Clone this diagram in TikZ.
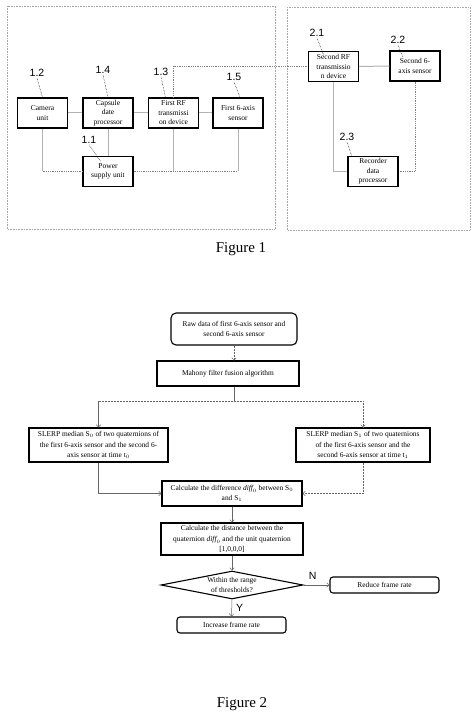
\documentclass[tikz,border=0pt]{standalone}
\usepackage{fontspec}
\setmainfont{Liberation Serif}
\newfontfamily\labelfont{Liberation Sans}
\usepackage{tikz}
\usetikzlibrary{calc}
\usetikzlibrary{arrows.meta}
\usetikzlibrary{shapes.geometric}
\tikzset{
    unit/.style={draw, line width=1.3pt, minimum width=50pt, minimum height=30pt, inner sep=1pt, align=center, font=\fontsize{7.5}{9.5}\selectfont},
    frame/.style={draw=gray!70, densely dotted, line width=0.6pt},
    wire/.style={gray!60, line width=1pt},
    dwire/.style={gray, densely dotted, line width=0.8pt},
    leader/.style={densely dotted, line width=0.5pt},
    num/.style={text=black, font=\labelfont\fontsize{10.5}{12}\selectfont, inner sep=1pt},
    stepbox/.style={draw, line width=1.1pt, inner sep=1pt, align=center, font=\fontsize{7.4}{10.5}\selectfont},
    flow/.style={gray!80!black, line width=0.5pt},
    ->-/.style={flow, -{To[length=3pt,width=5pt]}},
    caption/.style={font=\fontsize{15}{18}\selectfont}
}
\begin{document}
\begin{tikzpicture}[x=1pt,y=-1pt]
\useasboundingbox (0,0) rectangle (474,719);
% Figure 1
\draw[frame] (7,6) rectangle (275,229);
\draw[frame] (287,7) rectangle (470,230);
\foreach \x/\y/\p/\t in {42.5/113/cam/{Camera\\unit}, 108/113/cap/{Capsule\\date\\processor}, 173.5/113/rf1/{First RF\\transmissi\\on device}, 238/113/sa1/{First 6-axis\\sensor}, 108/171.5/pwr/{Power\\supply unit}, 333.5/66.5/rf2/{Second RF\\transmissio\\n device}, 415/66/sa2/{Second 6-\\axis sensor}, 373/171.5/rec/{Recorder\\data\\processor}}{
    \node[unit] (\p) at (\x,\y) {\t};
}
\draw[wire] (cam) -- (cap);
\draw[wire] (cap) -- (rf1);
\draw[wire] (rf1) -- (sa1);
\draw[wire] (cap) -- (pwr);
\draw[wire] (cam.south) -- (cam.south |- pwr.west);
\draw[dwire] (cam.south |- pwr.west) -- (pwr.west);
\draw[dwire] (pwr.east) -- (sa1.south |- pwr.east);
\draw[wire] (sa1.south) -- (sa1.south |- pwr.east);
\draw[wire] (rf1.south) -- (rf1.south |- pwr.east);
\draw[dwire] (rf1.north) |- (rf2.west);
\draw[wire] (rf2) -- (sa2);
\draw[wire] (rf2.south) |- (rec.west);
\draw[dwire] (sa2.south) |- (rec.east);
\foreach \x/\y/\p/\t/\dx/\dy in {37/73/cam/1.2/0/0, 103/70/cap/1.4/0/0, 161/72/rf1/1.3/-8/0, 234/77/sa1/1.5/2/0, 89/140/pwr/1.1/-7/6, 317/33/rf2/2.1/-10/4, 398/40/sa2/2.2/-12/7, 347/137/rec/2.3/-21/1}{
    \node[num] (lab\p) at (\x,\y) {\t};
    \draw[leader] (lab\p.south) -- ([shift={(\dx,\dy)}]\p.north);
}
\node[caption] (fig1) at (241,249) {Figure 1};
% Figure 2
\node[stepbox, rounded corners=5pt, minimum width=126pt, minimum height=32pt] (raw) at (234,329) {Raw data of first 6-axis sensor and\\second 6-axis sensor};
\node[stepbox, minimum width=142pt, minimum height=25pt] (mah) at (228,373.5) {Mahony filter fusion algorithm};
\node[stepbox, minimum width=139pt, minimum height=34pt] (sl0) at (98.5,445) {SLERP median S$_0$ of two quaternions of\\the first 6-axis sensor and the second 6-\\axis sensor at time t$_0$};
\node[stepbox, minimum width=134pt, minimum height=34pt] (sl1) at (363,445) {SLERP median S$_1$ of two quaternions\\of the first 6-axis sensor and the\\second 6-axis sensor at time t$_1$};
\node[stepbox, minimum width=140pt, minimum height=25pt] (dif) at (232,493.5) {Calculate the difference $\mathit{diff}_0$ between S$_0$\\and S$_1$};
\node[stepbox, minimum width=142pt, minimum height=32pt] (dist) at (232,539) {Calculate the distance between the\\quaternion $\mathit{diff}_0$ and the unit quaternion\\{[}1,0,0,0{]}};
\node[stepbox, diamond, aspect=5, inner sep=0pt, minimum width=142pt, minimum height=28pt] (dec) at (232,585) {Within the range\\of thresholds?};
\node[stepbox, rounded corners=3pt, minimum width=109pt, minimum height=16pt] (red) at (384.5,585) {Reduce frame rate};
\node[stepbox, rounded corners=3pt, minimum width=109pt, minimum height=16pt] (inc) at (231.5,625) {Increase frame rate};
\coordinate (split) at (234,401);
\draw[->-, densely dotted] (raw.south) -- (raw.south |- mah.north);
\draw[flow] (split |- mah.south) -- (split);
\draw[flow, densely dotted] (sl0.north |- split) -- (sl1.north |- split);
\draw[->-] (sl0.north |- split) -- (sl0.north);
\draw[->-, densely dotted] (sl1.north |- split) -- (sl1.north);
\draw[->-] (sl0.south) |- (dif.west);
\draw[->-, densely dotted] (sl1.south) |- (dif.east);
\draw[->-] (dif) -- (dist);
\draw[->-] (dist) -- (dec);
\draw[->-] (dec.east) -- (red.west) node[num, pos=0.35, above=4pt] (nlab) {N};
\draw[->-] (dec.south) -- (inc.north) node[num, midway, right=3pt] (ylab) {Y};
\node[caption] (fig2) at (242,704) {Figure 2};
\end{tikzpicture}
\end{document}
